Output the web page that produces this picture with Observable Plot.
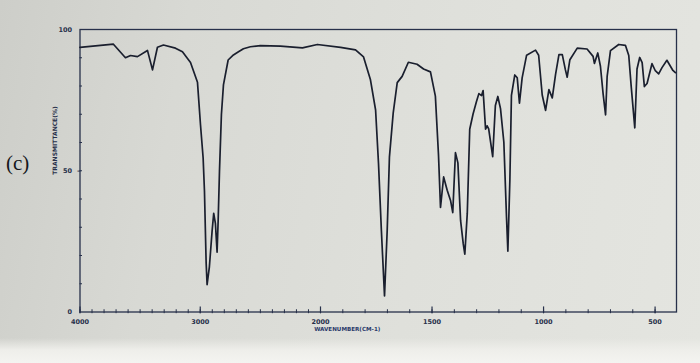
<!DOCTYPE html>
<html>
<head>
<meta charset="utf-8">
<script src="https://cdn.jsdelivr.net/npm/d3@7"></script>
<script src="https://cdn.jsdelivr.net/npm/@observablehq/plot@0.6"></script>
<style>
  html, body { margin: 0; padding: 0; }
  body {
    width: 700px; height: 363px; overflow: hidden; position: relative;
    background:
      linear-gradient(180deg, rgba(255,255,255,0) 0px, rgba(255,255,255,0) 338px, #eeeeea 350px, #f4f4f1 363px),
      linear-gradient(100deg, #cdcec9 0%, #d8d9d4 25%, #dfe0db 60%, #e4e5e0 100%);
  }
  #chart { position: absolute; left: 0; top: 0; }
  #label-c { position: absolute; left: 6px; top: 151px; font-family: "Liberation Serif", "DejaVu Serif", serif; font-size: 21px; color: #15171c; }
</style>
</head>
<body>
<div id="chart"></div>
<div id="label-c">(c)</div>
<script>
// Wavenumber (cm-1)
const wavenumber = [4000, 3722, 3622, 3580, 3522, 3439, 3397, 3356, 3306, 3206, 3148, 3081, 3023, 2998, 2976, 2965, 2951, 2943, 2924, 2901, 2888, 2874, 2860, 2851, 2840, 2824, 2807, 2768, 2724, 2682, 2641, 2583, 2500, 2333, 2150, 2026,
  1910, 1843, 1807, 1776, 1753, 1740, 1727, 1713, 1701, 1691, 1674, 1656, 1634, 1606, 1567, 1538, 1507, 1485, 1471, 1462, 1448, 1432, 1417, 1407, 1395, 1384, 1372, 1360, 1353, 1342, 1331, 1316, 1301, 1290, 1278, 1271, 1260, 1253, 1246, 1228, 1216, 1205, 1193, 1178, 1166, 1160, 1151, 1144, 1129, 1118, 1108, 1096, 1076, 1036, 1022, 1006, 991, 976, 961, 946, 931, 916, 902, 894, 882, 849, 805, 778, 772, 757, 745, 733, 722, 715, 700, 663, 633, 618, 607, 591, 581, 569, 558, 548, 536, 514, 499, 484, 469, 447, 420, 409];
// Transmittance (%)
const transmittance = [93.7, 94.8, 90.0, 90.8, 90.4, 92.6, 85.7, 93.7, 94.5, 93.4, 92.1, 88.3, 81.3, 66.3, 54.5, 42.9, 17.4, 9.7, 16.0, 28.9, 34.9, 31.4, 21.2, 32.4, 49.9, 69.9, 80.4, 89.2, 91.0, 92.1, 93.2, 93.9, 94.3, 94.1, 93.5, 94.7,
  93.7, 92.8, 90.3, 82.2, 71.5, 52.7, 28.8, 5.7, 28.8, 54.8, 70.5, 81.2, 83.4, 88.4, 87.7, 86.0, 85.0, 76.4, 55.6, 37.0, 47.8, 43.1, 39.5, 35.2, 56.4, 52.8, 32.4, 24.1, 20.5, 34.9, 64.7, 70.1, 74.4, 77.3, 76.6, 78.4, 64.7, 65.9, 64.8, 55.0, 73.1, 76.3, 72.0, 60.1, 33.4, 21.5, 46.8, 76.7, 83.9, 82.9, 73.9, 82.9, 90.9, 92.7, 90.9, 76.8, 71.4, 78.7, 75.8, 84.2, 91.1, 91.1, 85.7, 83.1, 89.3, 93.4, 93.1, 90.5, 88.0, 91.7, 87.0, 77.2, 69.8, 83.3, 92.5, 94.7, 94.4, 90.8, 79.8, 65.2, 86.0, 90.1, 88.3, 79.8, 80.9, 87.9, 85.4, 84.3, 86.5, 89.1, 85.5, 84.7];

const xTickLabels = [4000, 3000, 2000, 1500, 1000, 500];
const yTickLabels = [0, 50, 100];
const xMinorTicks = d3.range(4000, 450, -100);
const yMinorTicks = d3.range(10, 100, 10);

// IR chart paper: the abscissa scale doubles below 2000 cm-1
const SPLIT = 2000, END = 404;
const pos = w => w >= SPLIT ? (4000 - w) * 1 : (4000 - SPLIT) + (SPLIT - w) * 1.855;
const xMax = pos(END);

const data = wavenumber.map((w, i) => ({u: pos(w), t: transmittance[i]}));
const ink = "#27304a";

const chart = Plot.plot({
  width: 700,
  height: 363,
  marginLeft: 79.5,
  marginRight: 24,
  marginTop: 29,
  marginBottom: 51.5,
  style: {background: "transparent", fontFamily: "DejaVu Sans", overflow: "visible"},
  x: {domain: [0, xMax], axis: null},
  y: {domain: [0, 100], axis: null},
  marks: [
    Plot.frame({stroke: ink, strokeWidth: 1.3}),
    // x minor and major ticks
    Plot.ruleX(xMinorTicks, {x: d => pos(d), y1: -0.6, y2: 0.8, stroke: ink, strokeWidth: 1}),
    Plot.ruleX(xTickLabels, {x: d => pos(d), y1: -0.6, y2: 1.8, stroke: ink, strokeWidth: 1.2}),
    Plot.text(xTickLabels, {x: d => pos(d), y: 0, dy: 10, text: d => String(d), fill: ink, fontSize: 6.5, fontWeight: "bold"}),
    // y ticks
    Plot.tickY(yMinorTicks, {y: d => d, frameAnchor: "left", stroke: ink, strokeWidth: 1, insetRight: 594}),
    Plot.text(yTickLabels, {frameAnchor: "left", y: d => d, dx: -8, textAnchor: "end", text: d => String(d), fill: ink, fontSize: 6.5, fontWeight: "bold"}),
    Plot.text(["–"], {frameAnchor: "left", y: 50, dx: -3, text: d => d, fill: ink, fontSize: 7, fontWeight: "bold"}),
    // axis titles
    Plot.text(["TRANSMITTANCE(%)"], {frameAnchor: "left", y: 50, dx: -25, dy: 4, rotate: -90, text: d => d, fill: ink, fontSize: 6, fontWeight: "bold"}),
    Plot.text(["WAVENUMBER(CM-1)"], {x: pos(1880), y: 0, dy: 17, text: d => d, fill: "#2a3a6a", fontSize: 5.6, fontWeight: "bold"}),
    // spectrum
    Plot.line(data, {x: "u", y: "t", stroke: "#1a1f2e", strokeWidth: 1.7, curve: "linear"})
  ]
});
document.getElementById("chart").append(chart);
</script>
</body>
</html>
